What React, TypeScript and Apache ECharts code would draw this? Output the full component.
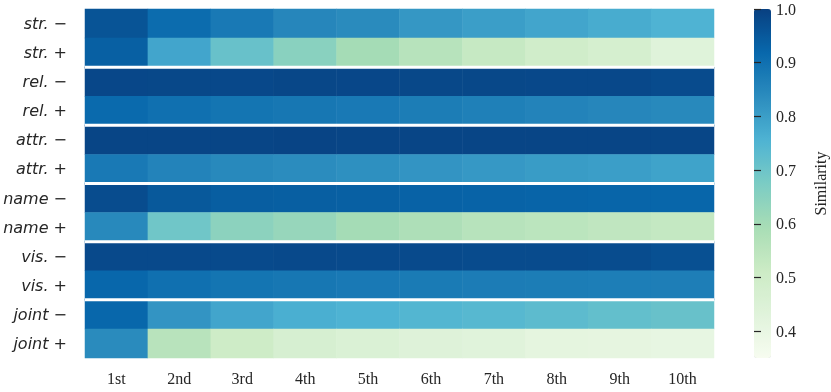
import React, { useEffect, useRef } from "react";
import * as echarts from "echarts";

const columns = ["1st", "2nd", "3rd", "4th", "5th", "6th", "7th", "8th", "9th", "10th"];
const rowLabels = [
  "str. −", "str. +", "rel. −", "rel. +", "attr. −", "attr. +",
  "name −", "name +", "vis. −", "vis. +", "joint −", "joint +",
];

const strMinus = [0.96, 0.91, 0.88, 0.85, 0.84, 0.815, 0.80, 0.785, 0.77, 0.755];
const strPlus = [0.935, 0.785, 0.71, 0.65, 0.60, 0.56, 0.525, 0.495, 0.475, 0.435];
const relMinus = [0.985, 0.984, 0.983, 0.986, 0.985, 0.984, 0.984, 0.983, 0.983, 0.978];
const relPlus = [0.915, 0.90, 0.89, 0.885, 0.88, 0.872, 0.865, 0.857, 0.85, 0.845];
const attrMinus = [0.99, 0.99, 0.99, 0.992, 0.99, 0.99, 0.99, 0.99, 0.99, 0.988];
const attrPlus = [0.88, 0.857, 0.845, 0.838, 0.83, 0.82, 0.812, 0.805, 0.80, 0.79];
const nameMinus = [0.975, 0.95, 0.94, 0.938, 0.935, 0.93, 0.928, 0.926, 0.924, 0.922];
const namePlus = [0.845, 0.695, 0.645, 0.625, 0.60, 0.58, 0.56, 0.55, 0.54, 0.53];
const visMinus = [0.982, 0.981, 0.98, 0.982, 0.98, 0.979, 0.978, 0.977, 0.975, 0.968];
const visPlus = [0.92, 0.90, 0.89, 0.885, 0.88, 0.876, 0.873, 0.872, 0.87, 0.868];
const jointMinus = [0.92, 0.82, 0.785, 0.765, 0.757, 0.747, 0.74, 0.73, 0.718, 0.71];
const jointPlus = [0.84, 0.558, 0.505, 0.47, 0.455, 0.44, 0.43, 0.415, 0.41, 0.405];

const rowsData = [
  strMinus, strPlus, relMinus, relPlus, attrMinus, attrPlus,
  nameMinus, namePlus, visMinus, visPlus, jointMinus, jointPlus,
];

const colorbarTicks = [0.4, 0.5, 0.6, 0.7, 0.8, 0.9, 1.0];
const separatorAfter = [1, 3, 5, 7, 9];

const GnBu = [
  "#f7fcf0", "#e0f3db", "#ccebc5", "#a8ddb5", "#7bccc4",
  "#4eb3d3", "#2b8cbe", "#0868ac", "#084081",
];

export default function App() {
  const ref = useRef<HTMLDivElement>(null);
  useEffect(() => {
    if (!ref.current) return;
    const chart = echarts.init(ref.current, undefined, { renderer: "svg" });
    const data: [number, number, number][] = [];
    rowsData.forEach((row, r) => row.forEach((v, c) => data.push([c, r, v])));
    const textColor = "#262626";
    chart.setOption({
      animation: false,
      grid: [
        { left: 85, top: 9, width: 629, height: 349 },
        { left: 754, top: 9, width: 17, height: 349 },
      ],
      xAxis: [
        {
          type: "category",
          data: columns,
          gridIndex: 0,
          axisLine: { show: false },
          axisTick: { show: false },
          splitLine: { show: false },
          axisLabel: {
            color: textColor,
            fontFamily: "Liberation Serif",
            fontSize: 16,
            margin: 12,
          },
        },
        { type: "value", gridIndex: 1, show: false, min: 0, max: 1 },
      ],
      yAxis: [
        {
          type: "category",
          data: rowLabels,
          inverse: true,
          gridIndex: 0,
          axisLine: { show: false },
          axisTick: { show: false },
          splitLine: { show: false },
          axisLabel: {
            color: textColor,
            fontFamily: "DejaVu Sans",
            fontStyle: "italic",
            fontSize: 16,
            margin: 18,
          },
        },
        {
          type: "value",
          gridIndex: 1,
          min: 0.35,
          max: 1.0,
          position: "right",
          z: 10,
          axisLine: { show: false },
          splitLine: { show: false },
          axisTick: {
            show: true,
            length: 7,
            customValues: colorbarTicks,
            lineStyle: { color: textColor, width: 1.2 },
          },
          axisLabel: {
            customValues: colorbarTicks,
            formatter: (v: number) => v.toFixed(1),
            color: textColor,
            fontFamily: "Liberation Serif",
            fontSize: 16,
            margin: 5,
          },
          name: "Similarity",
          nameLocation: "middle",
          nameRotate: 90,
          nameGap: 41,
          nameTextStyle: {
            color: textColor,
            fontFamily: "Liberation Serif",
            fontSize: 16,
          },
        },
      ],
      visualMap: {
        type: "continuous",
        min: 0.35,
        max: 1.0,
        seriesIndex: 0,
        calculable: false,
        orient: "vertical",
        left: 754,
        top: 9,
        itemWidth: 17,
        itemHeight: 349,
        padding: 0,
        inRange: { color: GnBu },
        text: ["", ""],
        showLabel: false,
        hoverLink: false,
      },
      series: [
        {
          type: "heatmap",
          xAxisIndex: 0,
          yAxisIndex: 0,
          data,
          itemStyle: { borderWidth: 0 },
          emphasis: { disabled: true },
        },
        {
          type: "scatter",
          xAxisIndex: 1,
          yAxisIndex: 1,
          data: [],
        },
      ],
    });

    const px = (i: number) => chart.convertToPixel({ xAxisIndex: 0 }, i) as number;
    const py = (i: number) => chart.convertToPixel({ yAxisIndex: 0 }, i) as number;
    const halfW = (px(1) - px(0)) / 2;
    const x1 = px(0) - halfW;
    const x2 = px(columns.length - 1) + halfW;
    const graphic = separatorAfter.map((r) => {
      const y = (py(r) + py(r + 1)) / 2;
      return {
        type: "line",
        shape: { x1, y1: y, x2, y2: y },
        style: { stroke: "#ffffff", lineWidth: 3 },
        z: 100,
      };
    });
    chart.setOption({ graphic });

    return () => chart.dispose();
  }, []);
  return (
    <div
      ref={ref}
      style={{ position: "fixed", left: 0, top: 0, width: 831, height: 392 }}
    />
  );
}
